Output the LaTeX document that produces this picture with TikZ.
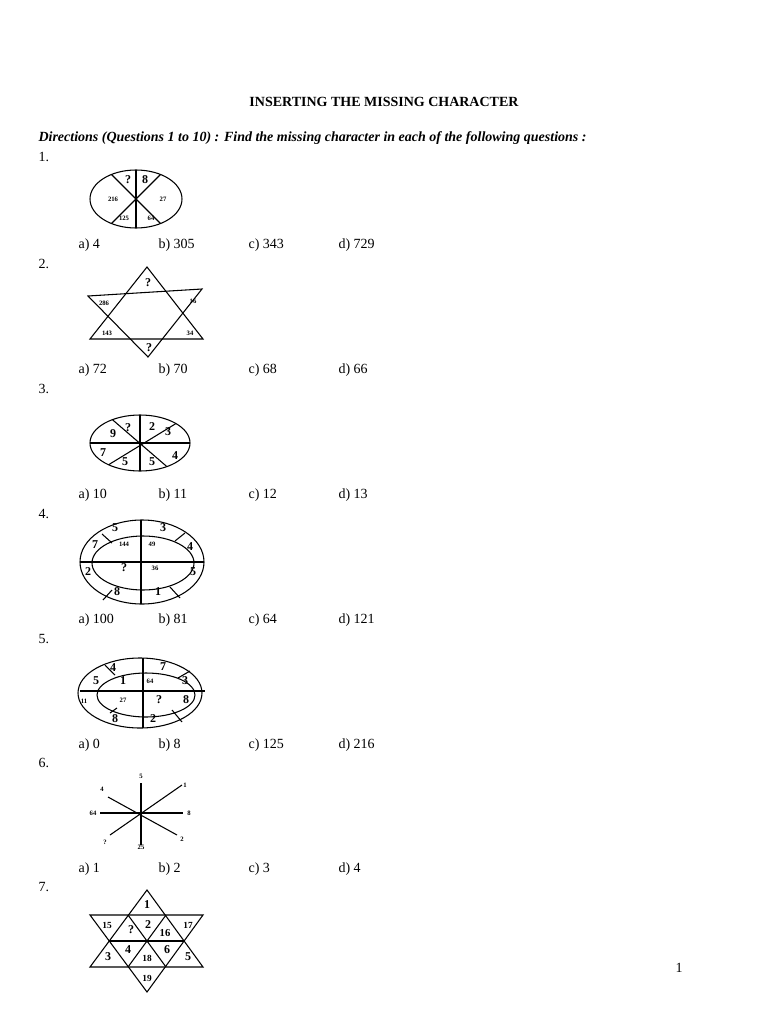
\documentclass[tikz,border=0pt]{standalone}
\usepackage{fontspec}
\setmainfont{Liberation Serif}
\begin{document}
\begin{tikzpicture}[x=0.75pt,y=-0.75pt,line width=0.8pt,
 txt/.style={anchor=west,inner sep=0,font=\fontsize{10.5}{12}\selectfont},
 sl/.style={inner sep=0,font=\bfseries\fontsize{5}{5}\selectfont},
 bl/.style={inner sep=0,font=\bfseries\fontsize{9}{9}\selectfont}]
\useasboundingbox (0,0) rectangle (768,1024);
\node[inner sep=0,font=\bfseries\fontsize{10.5}{12}\selectfont] (title) at (384,102) {INSERTING THE MISSING CHARACTER};
\node[txt,font=\bfseries\itshape\fontsize{10.5}{12}\selectfont] (dir) at (38,138) {Directions (Questions 1 to 10) : Find the missing character in each of the following questions :};
\foreach \n/\y in {1/157,2/264,3/389,4/514,5/639,6/763,7/887} \node[txt] (q\n) at (38,\y) {\n.};
\foreach \y/\a/\b/\c/\d [count=\i] in {245/4/305/343/729,370/72/70/68/66,495/10/11/12/13,620/100/81/64/121,745/0/8/125/216,869/1/2/3/4}{
 \node[txt] (oa\i) at (78,\y) {a) \a};
 \node[txt] (ob\i) at (158,\y) {b) \b};
 \node[txt] (oc\i) at (248,\y) {c) \c};
 \node[txt] (od\i) at (338,\y) {d) \d};}
\node[txt] (pg) at (675,968) {1};
% Fig 1
\draw (136,199) ellipse (46 and 29);
\begin{scope}
\clip (136,199) ellipse (46 and 29);
\draw (136,160) -- (136,240);
\draw (100,163) -- (172,235);
\draw (172,163) -- (100,235);
\end{scope}
\node[bl] (f1a) at (128,180) {?}; \node[bl] (f1b) at (145,180) {8};
\node[sl] (f1c) at (113,199) {216}; \node[sl] (f1d) at (163,199) {27};
\node[sl] (f1e) at (124,218) {125}; \node[sl] (f1f) at (151,218) {64};
% Fig 2
\draw (147,267) -- (90,339) -- (203,339) -- cycle;
\draw (88,296) -- (202,289) -- (148,357) -- cycle;
\node[bl] (f2a) at (148,283) {?}; \node[sl] (f2b) at (104,303) {286};
\node[sl] (f2c) at (193,301) {16}; \node[sl] (f2d) at (107,333) {143};
\node[sl] (f2e) at (190,333) {34}; \node[bl] (f2f) at (149,348) {?};
% Fig 3
\draw (140,443) ellipse (50 and 28);
\begin{scope}
\clip (140,443) ellipse (50 and 28);
\draw (140,410) -- (140,475); \draw (85,443) -- (195,443);
\draw (107,415) -- (172,471); \draw (100,470) -- (185,418);
\end{scope}
\node[bl] (f3a) at (113,434) {9}; \node[bl] (f3b) at (128,428) {?};
\node[bl] (f3c) at (152,427) {2}; \node[bl] (f3d) at (168,432) {3};
\node[bl] (f3e) at (103,453) {7}; \node[bl] (f3f) at (125,462) {5};
\node[bl] (f3g) at (152,462) {5}; \node[bl] (f3h) at (175,456) {4};
% Fig 4
\draw (142,562) ellipse (62 and 42);
\draw (143,563) ellipse (51 and 27);
\draw (141,520) -- (141,604); \draw (80,562) -- (204,562);
\draw (102,534) -- (112,543); \draw (185,533) -- (175,541);
\draw (103,600) -- (112,590); \draw (180,598) -- (170,587);
\node[bl] (f4a) at (115,528) {5}; \node[bl] (f4b) at (163,528) {3};
\node[bl] (f4c) at (95,545) {7}; \node[sl] (f4d) at (124,544) {144};
\node[sl] (f4e) at (152,544) {49}; \node[bl] (f4f) at (190,547) {4};
\node[bl] (f4g) at (88,572) {2}; \node[bl] (f4h) at (124,568) {?};
\node[sl] (f4i) at (155,568) {36}; \node[bl] (f4j) at (193,572) {5};
\node[bl] (f4k) at (117,592) {8}; \node[bl] (f4l) at (158,592) {1};
% Fig 5
\draw (140,693) ellipse (62 and 35);
\draw (146,695) ellipse (49 and 22);
\draw (143,658) -- (143,728); \draw (80,691) -- (205,691);
\draw (105,665) -- (115,675); \draw (190,671) -- (178,678);
\draw (110,713) -- (117,708); \draw (172,710) -- (182,722);
\node[bl] (f5a) at (113,668) {4}; \node[bl] (f5b) at (163,667) {7};
\node[bl] (f5c) at (96,681) {5}; \node[bl] (f5d) at (123,681) {1};
\node[sl] (f5e) at (150,681) {64}; \node[bl] (f5f) at (185,681) {3};
\node[sl] (f5g) at (84,701) {11}; \node[sl] (f5h) at (123,700) {27};
\node[bl] (f5i) at (159,700) {?}; \node[bl] (f5j) at (186,700) {8};
\node[bl] (f5k) at (115,719) {8}; \node[bl] (f5l) at (153,719) {2};
% Fig 6
\coordinate (c6) at (141,813);
\draw (141,783) -- (141,845); \draw (100,813) -- (183,813);
\draw (108,797) -- (177,835); \draw (182,785) -- (110,835);
\fill (c6) circle (1.5);
\node[sl] (f6a) at (141,776) {5}; \node[sl] (f6b) at (185,785) {1};
\node[sl] (f6c) at (102,789) {4}; \node[sl] (f6d) at (93,813) {64};
\node[sl] (f6e) at (189,813) {8}; \node[sl] (f6f) at (105,842) {?};
\node[sl] (f6g) at (141,847) {25}; \node[sl] (f6h) at (182,839) {2};
% Fig 7
\draw (147,890) -- (90,967) -- (203,967) -- cycle;
\draw (90,915) -- (203,915) -- (147,992) -- cycle;
\draw (109,941) -- (185,941); \draw (128,915) -- (166,967); \draw (166,915) -- (128,967);
\node[bl] (f7a) at (147,905) {1}; \node[sl,font=\bfseries\fontsize{7}{7}\selectfont] (f7b) at (107,925) {15};
\node[bl] (f7c) at (131,930) {?}; \node[bl] (f7d) at (148,925) {2};
\node[sl,font=\bfseries\fontsize{8}{8}\selectfont] (f7e) at (165,933) {16}; \node[sl,font=\bfseries\fontsize{7}{7}\selectfont] (f7f) at (188,925) {17};
\node[bl] (f7g) at (128,950) {4}; \node[bl] (f7h) at (167,950) {6};
\node[bl] (f7i) at (108,957) {3}; \node[sl,font=\bfseries\fontsize{7}{7}\selectfont] (f7j) at (147,958) {18};
\node[bl] (f7k) at (188,957) {5}; \node[sl,font=\bfseries\fontsize{7}{7}\selectfont] (f7l) at (147,978) {19};
\end{tikzpicture}
\end{document}
